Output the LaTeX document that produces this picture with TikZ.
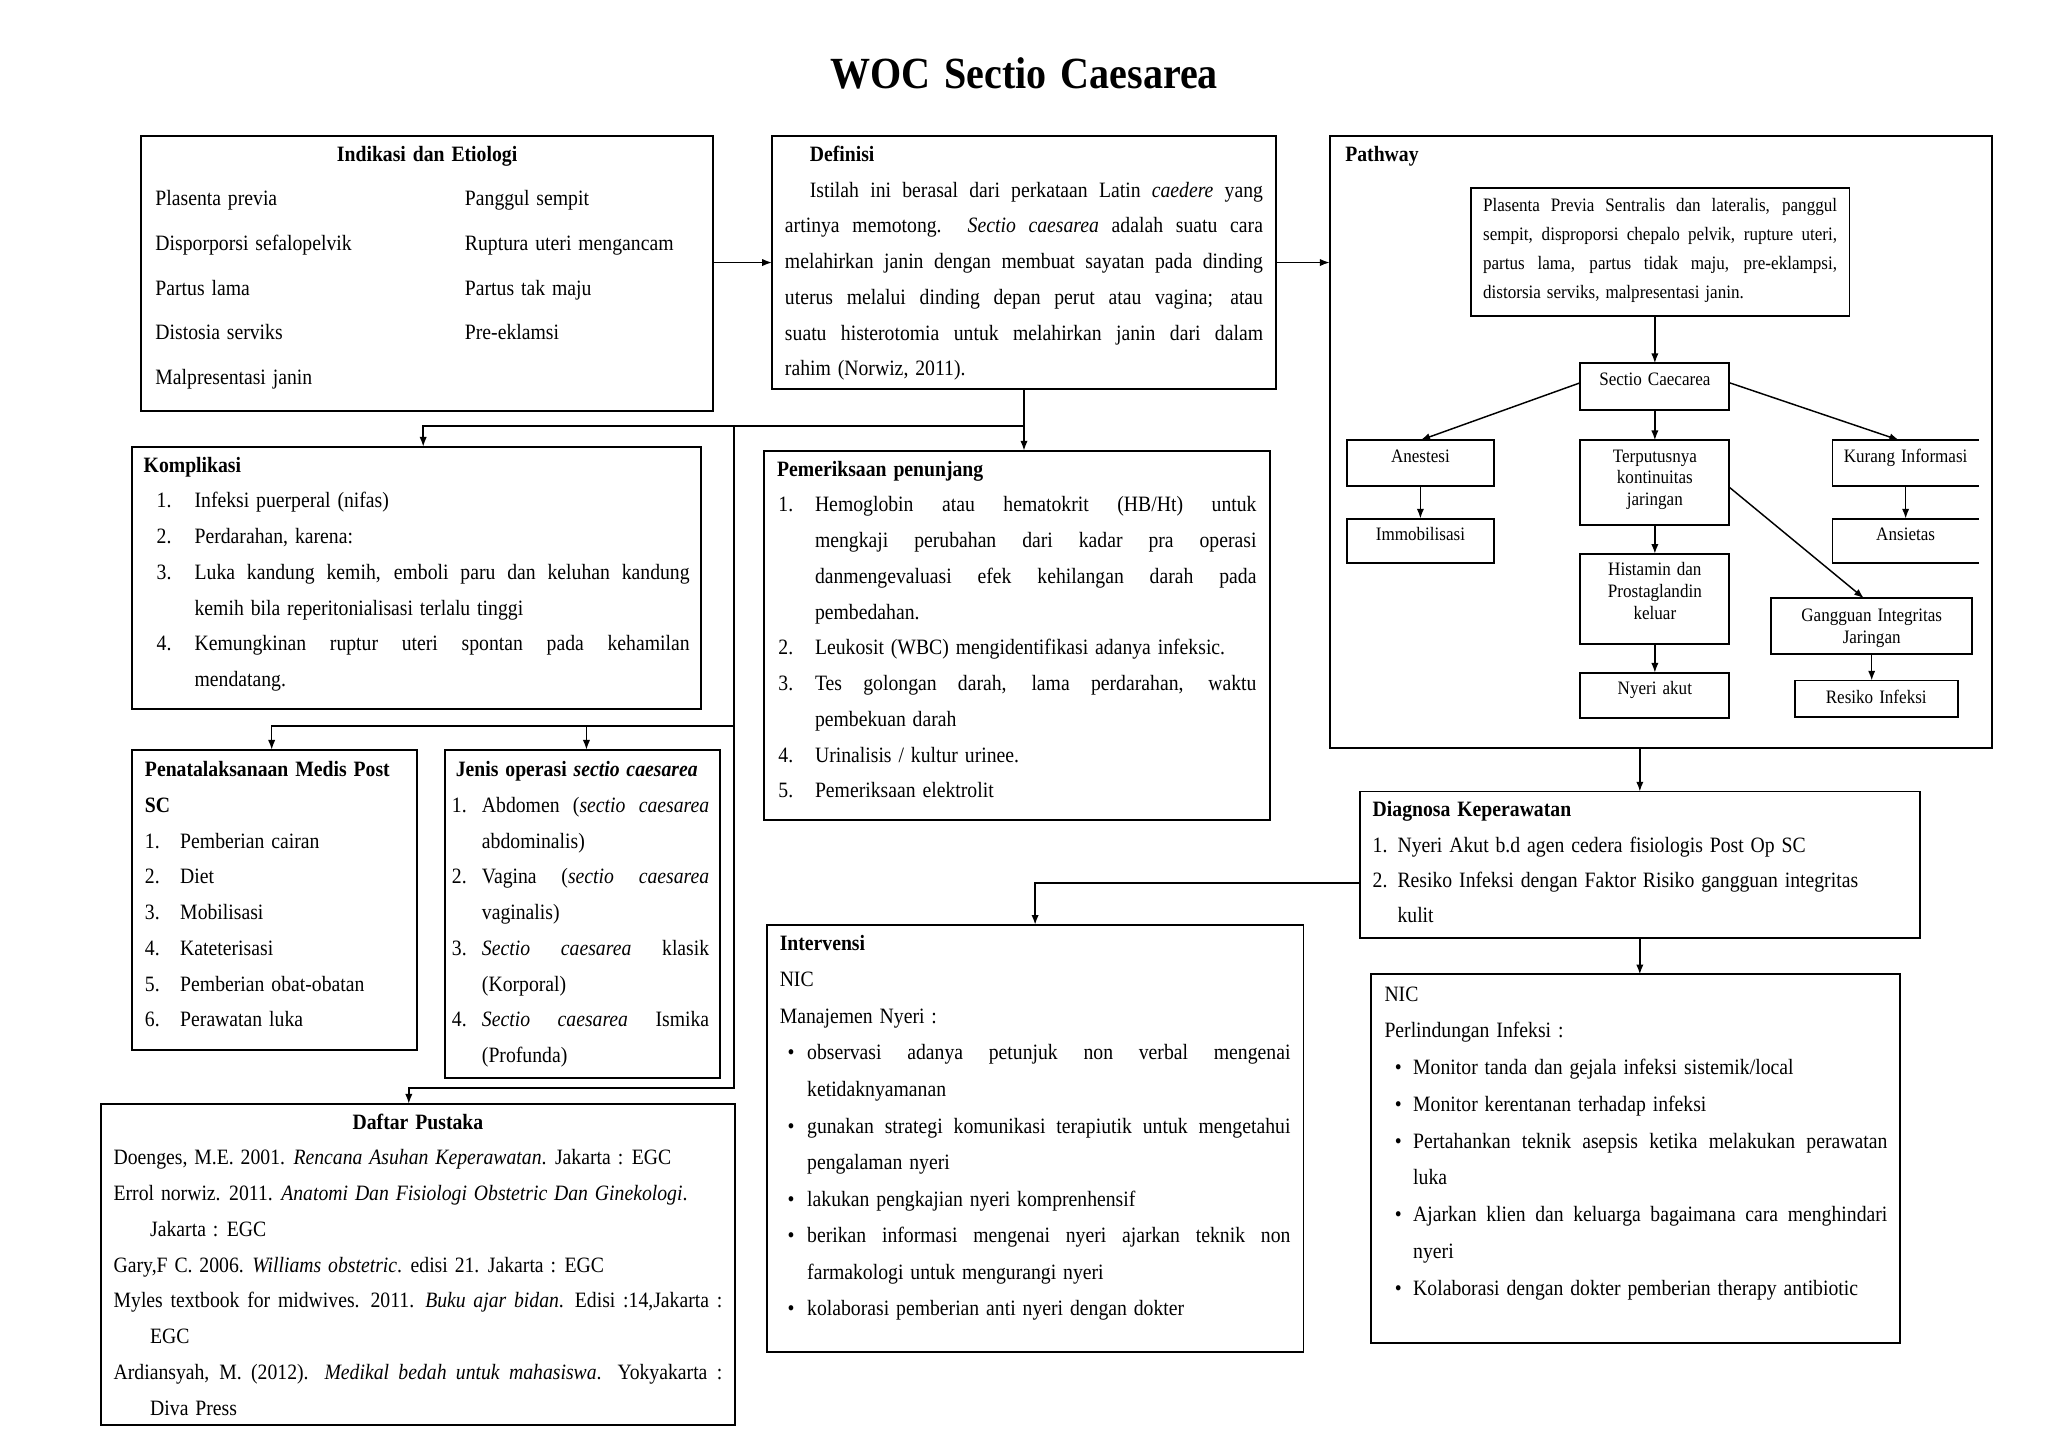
\documentclass[tikz,border=0pt]{standalone}
\usepackage{fontspec}
\setmainfont{Liberation Serif}[FakeStretch=0.9, WordSpace=1.4]
\usetikzlibrary{arrows.meta}
\newlength{\px}
\setlength{\px}{0.5369pt}
\hyphenpenalty=10000
\exhyphenpenalty=10000
\newcommand{\bodyfont}{\fontsize{9}{14.7}\selectfont}
\newcommand{\smallfont}{\fontsize{7.8}{8.86}\selectfont}
\newcommand{\lead}[1]{\rule{0pt}{#1\px}}
\newcommand{\topbox}[3]{\begin{minipage}[c][#2\px][t]{#1\px}#3\end{minipage}}
\newcommand{\entry}[3]{\par\noindent\hangindent=#2\px\hangafter=1\hbox to #2\px{\hspace*{#1\px}#3\hfil}\ignorespaces}
\newcommand{\bibline}{\par\noindent\hangindent=28\px\hangafter=1\ignorespaces}
\tikzset{
  panel/.style={draw, line width=0.8pt, anchor=north west, inner ysep=0pt, outer sep=0pt},
  cell/.style={panel, inner xsep=0pt},
  openbox/.style={cell, draw=none},
  arr/.style={-{Latex[length=4pt,width=3pt]}, line width=0.6pt},
  link/.style={line width=0.8pt}
}
\begin{document}
\begin{tikzpicture}[x=0.5369pt, y=-0.5369pt]
\useasboundingbox (0,0) rectangle (1568,1109);

\node[font=\fontsize{18.3}{22}\selectfont\bfseries] (title) at (784,56) {WOC Sectio Caesarea};

\node[panel, inner xsep=11\px] (etio) at (108,104) {\topbox{416}{211}{\fontsize{9}{18.36}\selectfont
  \centerline{\lead{19.5}\textbf{Indikasi dan Etiologi}}
  \makebox[237\px][l]{Plasenta previa}Panggul sempit\par
  \makebox[237\px][l]{Disporporsi sefalopelvik}Ruptura uteri mengancam\par
  \makebox[237\px][l]{Partus lama}Partus tak maju\par
  \makebox[237\px][l]{Distosia serviks}Pre-eklamsi\par
  Malpresentasi janin}};

\node[panel, inner xsep=10\px] (def) at (591,104) {\topbox{366}{194}{\bodyfont
  \lead{19.5}\hspace*{19\px}\textbf{Definisi}\par
  \hspace*{19\px}Istilah ini berasal dari perkataan Latin \textit{caedere} yang\linebreak
  artinya memotong. \textit{Sectio caesarea} adalah suatu cara\linebreak
  melahirkan janin dengan membuat sayatan pada dinding\linebreak
  uterus melalui dinding depan perut atau vagina; atau\linebreak
  suatu histerotomia untuk melahirkan janin dari dalam\linebreak
  rahim (Norwiz, 2011).}};

\node[panel, inner xsep=12\px] (pway) at (1018,104) {\topbox{483}{469}{\bodyfont
  \lead{19.5}\textbf{Pathway}}};

\node[panel, inner xsep=9.5\px] (p1) at (1126,144) {\topbox{271}{98}{\fontsize{7.8}{11.97}\selectfont
  \lead{18}Plasenta Previa Sentralis dan lateralis, panggul\linebreak
  sempit, disproporsi chepalo pelvik, rupture uteri,\linebreak
  partus lama, partus tidak maju, pre-eklampsi,\linebreak
  distorsia serviks, malpresentasi janin.}};
\node[cell] (sc) at (1210,278) {\topbox{114}{36}{\smallfont\centering\lead{17}Sectio Caecarea}};
\node[cell] (anes) at (1031,337) {\topbox{113}{35}{\smallfont\centering\lead{17}Anestesi}};
\node[cell] (immo) at (1031,397) {\topbox{113}{34}{\smallfont\centering\lead{17}Immobilisasi}};
\node[cell] (putus) at (1210,337) {\topbox{114}{65}{\smallfont\centering\lead{17}Terputusnya\\kontinuitas\\jaringan}};
\node[cell] (hist) at (1210,424) {\topbox{114}{69}{\smallfont\centering\lead{17}Histamin dan\\Prostaglandin\\keluar}};
\node[cell] (nyeri) at (1210,515) {\topbox{114}{35}{\smallfont\centering\lead{17}Nyeri akut}};
\node[openbox] (kur) at (1403,337) {\topbox{112}{35}{\smallfont\centering\lead{17}Kurang Informasi}};
\node[openbox] (ans) at (1403,397) {\topbox{112}{34}{\smallfont\centering\lead{17}Ansietas}};
\node[cell] (gang) at (1356,458) {\topbox{154}{43}{\smallfont\centering\lead{18}Gangguan Integritas\\Jaringan}};
\node[cell] (res) at (1374,521) {\topbox{125}{28}{\smallfont\centering\lead{17.5}Resiko Infeksi}};
\draw[link] (kur.north east) -- (kur.north west) -- (kur.south west) -- (kur.south east);
\draw[link] (ans.north east) -- (ans.north west) -- (ans.south west) -- (ans.south east);

\node[panel, inner xsep=9\px] (komp) at (101,342) {\topbox{418}{201}{\bodyfont
  \lead{19.5}\textbf{Komplikasi}
  \entry{10}{39}{1.}Infeksi puerperal (nifas)
  \entry{10}{39}{2.}Perdarahan, karena:
  \entry{10}{39}{3.}Luka kandung kemih, emboli paru dan keluhan kandung\linebreak
  kemih bila reperitonialisasi terlalu tinggi
  \entry{10}{39}{4.}Kemungkinan ruptur uteri spontan pada kehamilan\linebreak
  mendatang.}};

\node[panel, inner xsep=10\px] (pem) at (585,345) {\topbox{367}{283}{\bodyfont
  \lead{19.5}\textbf{Pemeriksaan penunjang}
  \entry{1}{29}{1.}Hemoglobin atau hematokrit (HB/Ht) untuk\linebreak
  mengkaji perubahan dari kadar pra operasi\linebreak
  danmengevaluasi efek kehilangan darah pada\linebreak
  pembedahan.
  \entry{1}{29}{2.}Leukosit (WBC) mengidentifikasi adanya infeksic.
  \entry{1}{29}{3.}Tes golongan darah, lama perdarahan, waktu\linebreak
  pembekuan darah
  \entry{1}{29}{4.}Urinalisis / kultur urinee.
  \entry{1}{29}{5.}Pemeriksaan elektrolit}};

\node[panel, inner xsep=10\px] (medis) at (101,574) {\topbox{198}{230}{\bodyfont
  \lead{20.5}\textbf{Penatalaksanaan Medis Post}\\\textbf{SC}
  \entry{0}{27}{1.}Pemberian cairan
  \entry{0}{27}{2.}Diet
  \entry{0}{27}{3.}Mobilisasi
  \entry{0}{27}{4.}Kateterisasi
  \entry{0}{27}{5.}Pemberian obat-obatan
  \entry{0}{27}{6.}Perawatan luka}};

\node[panel, inner xsep=8\px] (jenis) at (341,574) {\topbox{194}{251}{\bodyfont
  \lead{20.5}\textbf{Jenis operasi \textit{sectio caesarea}}
  \entry{-3}{20}{1.}Abdomen (\textit{sectio caesarea}\linebreak
  abdominalis)
  \entry{-3}{20}{2.}Vagina (\textit{sectio caesarea}\linebreak
  vaginalis)
  \entry{-3}{20}{3.}\textit{Sectio caesarea} klasik\linebreak
  (Korporal)
  \entry{-3}{20}{4.}\textit{Sectio caesarea} Ismika\linebreak
  (Profunda)}};

\node[panel, inner xsep=10\px] (pus) at (77,845) {\topbox{466}{246}{\bodyfont
  \centerline{\lead{19.5}\textbf{Daftar Pustaka}}
  \bibline Doenges, M.E. 2001. \textit{Rencana Asuhan Keperawatan}. Jakarta : EGC
  \bibline Errol norwiz. 2011. \textit{Anatomi Dan Fisiologi Obstetric Dan Ginekologi}.\\
  Jakarta : EGC
  \bibline Gary,F C. 2006. \textit{Williams obstetric}. edisi 21. Jakarta : EGC
  \bibline Myles textbook for midwives. 2011. \textit{Buku ajar bidan}. Edisi :14,Jakarta :\linebreak
  EGC
  \bibline Ardiansyah, M. (2012). \textit{Medikal bedah untuk mahasiswa}. Yokyakarta :\linebreak
  Diva Press}};

\node[panel, inner xsep=10\px] (diag) at (1041,606) {\topbox{409}{112}{\fontsize{9}{14.5}\selectfont
  \lead{19.5}\textbf{Diagnosa Keperawatan}
  \entry{0}{19}{1.}Nyeri Akut b.d agen cedera fisiologis Post Op SC
  \entry{0}{19}{2.}Resiko Infeksi dengan Faktor Risiko gangguan integritas\\
  kulit}};

\node[panel, inner xsep=10\px] (intv) at (587,708) {\topbox{391}{327}{\fontsize{9}{15.03}\selectfont
  \lead{19.5}\textbf{Intervensi}\par
  NIC\par
  Manajemen Nyeri :
  \entry{6}{21}{\textbullet}observasi adanya petunjuk non verbal mengenai\linebreak
  ketidaknyamanan
  \entry{6}{21}{\textbullet}gunakan strategi komunikasi terapiutik untuk mengetahui\linebreak
  pengalaman nyeri
  \entry{6}{21}{\textbullet}lakukan pengkajian nyeri komprenhensif
  \entry{6}{21}{\textbullet}berikan informasi mengenai nyeri ajarkan teknik non\linebreak
  farmakologi untuk mengurangi nyeri
  \entry{6}{21}{\textbullet}kolaborasi pemberian anti nyeri dengan dokter}};

\node[panel, inner xsep=10\px] (nic) at (1050,746) {\topbox{385}{282}{\fontsize{9}{15.1}\selectfont
  \lead{20.5}NIC\par
  Perlindungan Infeksi :
  \entry{8}{22}{\textbullet}Monitor tanda dan gejala infeksi sistemik/local
  \entry{8}{22}{\textbullet}Monitor kerentanan terhadap infeksi
  \entry{8}{22}{\textbullet}Pertahankan teknik asepsis ketika melakukan perawatan\linebreak
  luka
  \entry{8}{22}{\textbullet}Ajarkan klien dan keluarga bagaimana cara menghindari\linebreak
  nyeri
  \entry{8}{22}{\textbullet}Kolaborasi dengan dokter pemberian therapy antibiotic}};

\coordinate (fork) at (def.south |- 0,326);
\coordinate (trunk) at (562,326);
\coordinate (branch) at (562,556);
\coordinate (trunkend) at (562,833);
\coordinate (jin) at ([xshift=3\px]jenis.north);
\coordinate (dleft) at (diag.west |- 0,676);

\draw[arr] (etio.east |- def.west) -- (def.west);
\draw[arr] (def.east) -- (def.east -| pway.west);
\draw[arr] (def.south) -- (def.south |- pem.north);
\draw[arr] (fork) -| ([xshift=5\px]komp.north);
\draw[arr] (trunk) -- (trunkend) -| ([xshift=-7\px]pus.north);
\draw[arr] (branch) -| ([xshift=-2\px]medis.north);
\draw[arr] (jin |- branch) -- (jin);

\draw[arr] (p1.south -| sc.north) -- (sc.north);
\draw[arr] ([yshift=1.6pt]sc.west) -- (anes.north);
\draw[arr] ([yshift=1.6pt]sc.east) -- ([xshift=-5\px]kur.north);
\draw[arr] (sc.south) -- (putus.north);
\draw[arr] (anes.south) -- (immo.north);
\draw[arr] (putus.south) -- (hist.north);
\draw[arr] (hist.south) -- (nyeri.north);
\draw[arr] ([yshift=-1.9pt]putus.east) -- ([xshift=-6\px]gang.north);
\draw[arr] (kur.south) -- (ans.north);
\draw[arr] (gang.south) -- (gang.south |- res.north);

\draw[arr] (pway.south -| diag.north) -- (diag.north);
\draw[arr] (dleft) -| (intv.north);
\draw[arr] (diag.south) -- (diag.south |- nic.north);
\end{tikzpicture}
\end{document}
